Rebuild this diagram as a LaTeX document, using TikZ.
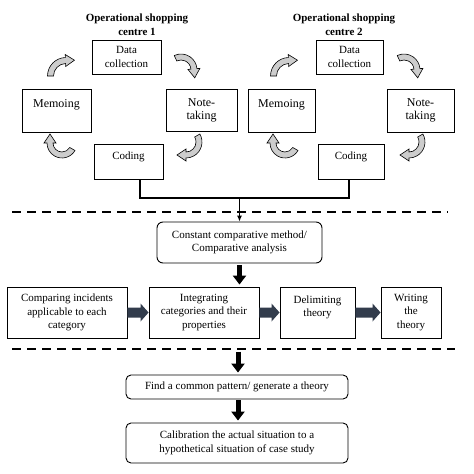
\documentclass[tikz,border=0pt]{standalone}
\usepackage{fontspec}
\setmainfont{Liberation Serif}
\usetikzlibrary{arrows.meta,calc}
\definecolor{slate}{RGB}{50,60,76}
\definecolor{curvgray}{RGB}{205,205,205}
\newcommand\cvarrow[5]{%
  \filldraw[curv] ($(#1,#2)+(#4:{#3+3})$) arc[start angle=#4, end angle=#5, radius=#3+3]
    -- ($(#1,#2)+(#5:{#3+6})$) -- ($(#1,#2)+(#5:#3)+({#5+90}:9)$)
    -- ($(#1,#2)+(#5:{#3-6})$) -- ($(#1,#2)+(#5:{#3-3})$)
    arc[start angle=#5, end angle=#4, radius=#3-3] -- cycle;}
\newcommand\blockarr[2]{%
  \fill[slate] ($(#1)+(0,-5)$) -- ($(#2)+(-8,-5)$) -- ($(#2)+(-8,-9)$) -- (#2)
    -- ($(#2)+(-8,9)$) -- ($(#2)+(-8,5)$) -- ($(#1)+(0,5)$) -- cycle;}
\begin{document}
\begin{tikzpicture}[x=1pt,y=1pt,yscale=-1,
  box/.style={draw,line width=0.9pt,align=center,inner sep=0pt,
    font=\fontsize{11}{13.3}\selectfont},
  bigbox/.style={box,font=\fontsize{12}{13}\selectfont},
  rbox/.style={box,rounded corners=6pt},
  title/.style={align=center,font=\bfseries\fontsize{11}{14}\selectfont},
  curv/.style={fill=curvgray,draw=black,line width=0.6pt},
  conn/.style={line width=1.3pt},
  connarr/.style={line width=1pt,-{Latex[length=6pt,width=5pt]}},
  thickarr/.style={line width=5pt,-{Triangle[width=13pt,length=9pt]}},
  sepline/.style={line width=1.8pt,dash pattern=on 9pt off 6pt}]
\useasboundingbox (0,0) rectangle (474,474);

% titles
\node[title] (t1) at (137,25) {Operational shopping\\centre 1};
\node[title] (t2) at (344,25) {Operational shopping\\centre 2};

% group 1
\node[box,minimum width=69,minimum height=34] (dc1) at (126.5,57) {Data\\collection};
\node[bigbox,minimum width=69,minimum height=43] (mem1) at (56.5,110.5) {Memoing\\\mbox{}};
\node[bigbox,minimum width=71,minimum height=42] (note1) at (201.5,110) {Note-\\taking};
\node[box,minimum width=69,minimum height=35] (cod1) at (128.5,161.5) {Coding\\[-2pt]\mbox{}};
\cvarrow{66}{76}{15.5}{180}{268}
\cvarrow{181}{70}{13}{245}{355}
\cvarrow{186}{142}{13}{-30}{90}
\cvarrow{62}{143}{12}{30}{180}

% group 2
\node[box,minimum width=67,minimum height=34] (dc2) at (349.5,57) {Data\\collection};
\node[bigbox,minimum width=67,minimum height=43] (mem2) at (281.5,110.5) {Memoing\\\mbox{}};
\node[bigbox,minimum width=67,minimum height=43] (note2) at (420.5,110.5) {Note-\\taking};
\node[box,minimum width=66,minimum height=35] (cod2) at (351,161.5) {Coding\\[-2pt]\mbox{}};
\cvarrow{289}{76}{15.5}{180}{268}
\cvarrow{404}{70}{13}{245}{355}
\cvarrow{409}{142}{13}{-30}{90}
\cvarrow{285}{143}{12}{30}{180}

% analysis
\node[rbox,minimum width=165,minimum height=41] (const) at (239.5,242.5)
  {Constant comparative method/\\Comparative analysis};
\node[box,minimum width=120,minimum height=51] (b1) at (67,312.5)
  {Comparing incidents\\applicable to each\\category};
\node[box,minimum width=110,minimum height=51] (b2) at (204,312.5)
  {Integrating\\categories and their\\properties};
\node[box,minimum width=75,minimum height=51] (b3) at (317.5,312.5)
  {Delimiting\\theory\\\mbox{}};
\node[box,minimum width=60,minimum height=51] (b4) at (411,312.5)
  {Writing\\the\\theory};
\node[rbox,rounded corners=5pt,minimum width=222,minimum height=24] (find) at (237,387)
  {Find a common pattern/ generate a theory};
\node[rbox,rounded corners=5pt,minimum width=222,minimum height=40] (calib) at (237,443)
  {Calibration the actual situation to a\\hypothetical situation of case study};

% connector from coding boxes
\coordinate (jmid) at (239.5,198);
\draw[conn] ($(cod1.south)+(11.5,0)$) |- (jmid) -| ($(cod2.south)+(-2,0)$);
\draw[connarr] (jmid) -- (const.north);

% separators
\draw[sepline] (12,212) -- (448,212);
\draw[sepline] (12,349) -- (455,349);

% thick arrows
\coordinate (k1s) at ($(const.south)+(0,2)$);
\coordinate (k1e) at ($(const.south |- b2.north)+(0,-2)$);
\draw[thickarr] (k1s) -- (k1e);
\coordinate (k2s) at ($(find.north)+(1,-23)$);
\coordinate (k2e) at ($(find.north)+(1,-2)$);
\draw[thickarr] (k2s) -- (k2e);
\coordinate (k3s) at ($(find.south)+(1,1)$);
\coordinate (k3e) at ($(calib.north)+(1,-2)$);
\draw[thickarr] (k3s) -- (k3e);

% block arrows
\blockarr{b1.east}{b2.west}
\blockarr{b2.east}{b3.west}
\blockarr{b3.east}{b4.west}
\end{tikzpicture}
\end{document}
